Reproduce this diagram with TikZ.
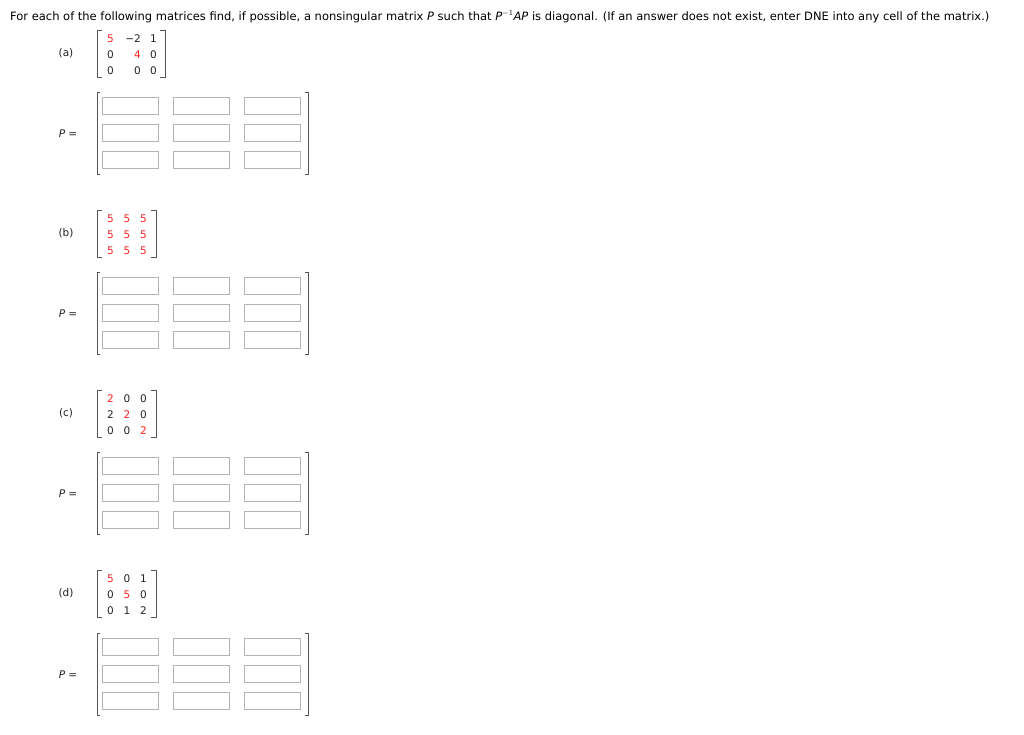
\documentclass[tikz,border=0pt]{standalone}
\usepackage{fontspec}
\setmainfont{DejaVu Sans}
\definecolor{txt}{HTML}{222222}
\definecolor{red}{HTML}{FF2020}
\definecolor{brk}{HTML}{555555}
\definecolor{boxc}{HTML}{B4B4B4}
\tikzset{
 ent/.style={anchor=base east,inner sep=0pt,font=\fontsize{10.5}{12}\selectfont,text=txt},
 rent/.style={ent,text=red},
 lab/.style={anchor=base,inner sep=0pt,font=\fontsize{10.5}{12}\selectfont,text=txt},
 cell/.style={draw=boxc,line width=0.9pt,minimum width=56pt,minimum height=17pt,inner sep=0pt,fill=white},
 brak/.style={draw=brk,line width=1pt}
}
\newcommand{\pmat}[2]{% name, center y
 \node[lab] (#1P) at (68,-#2-4) {\textit{P} =};
 \draw[brak] (100,-#2+41) -- (97,-#2+41) -- (97,-#2-41) -- (100,-#2-41);
 \draw[brak] (305,-#2+41) -- (308,-#2+41) -- (308,-#2-41) -- (305,-#2-41);
 \foreach \r in {1,2,3}{\foreach \c in {1,2,3}{
  \node[cell] (#1c\r\c) at (130+71*\c-71,-#2+54-27*\r) {};}}
}
\newcommand{\amat}[3]{% name, center y, right bracket x
 \draw[brak] (102,-#2+23) -- (97,-#2+23) -- (97,-#2-24) -- (102,-#2-24);
 \draw[brak] (#3-5,-#2+23) -- (#3,-#2+23) -- (#3,-#2-24) -- (#3-5,-#2-24);
}
\begin{document}
\begin{tikzpicture}[x=1pt,y=1pt]
\useasboundingbox (0,0) rectangle (1024,-734);
\node[anchor=base west,inner sep=0pt,font=\fontsize{11.5}{13}\selectfont,text=black] (title) at (10,-20) {For each of the following matrices find, if possible, a nonsingular matrix \textit{P} such that \textit{P}$^{-1}$\textit{AP} is diagonal. (If an answer does not exist, enter DNE into any cell of the matrix.)};
% (a)
\node[lab] (la) at (66,-56) {(a)};
\amat{a}{53}{165}
\node[rent] (a11) at (114,-42) {5}; \node[ent] (a12) at (141,-42) {−2}; \node[ent] (a13) at (157,-42) {1};
\node[ent] (a21) at (114,-58) {0}; \node[rent] (a22) at (141,-58) {4}; \node[ent] (a23) at (157,-58) {0};
\node[ent] (a31) at (114,-74) {0}; \node[ent] (a32) at (141,-74) {0}; \node[ent] (a33) at (157,-74) {0};
\pmat{a}{133}
% (b)
\node[lab] (lb) at (66,-236) {(b)};
\amat{b}{233}{156}
\foreach \r in {1,2,3}{\foreach \c in {1,2,3}{\node[rent] (b\r\c) at (97.5+16.5*\c,-206-16*\r) {5};}}
\pmat{b}{313}
% (c)
\node[lab] (lc) at (66,-416) {(c)};
\amat{c}{413}{156}
\node[rent] (c11) at (114,-402) {2}; \node[ent] (c12) at (130.5,-402) {0}; \node[ent] (c13) at (147,-402) {0};
\node[ent] (c21) at (114,-418) {2}; \node[rent] (c22) at (130.5,-418) {2}; \node[ent] (c23) at (147,-418) {0};
\node[ent] (c31) at (114,-434) {0}; \node[ent] (c32) at (130.5,-434) {0}; \node[rent] (c33) at (147,-434) {2};
\pmat{c}{493}
% (d)
\node[lab] (ld) at (66,-596) {(d)};
\amat{d}{593}{156}
\node[rent] (d11) at (114,-582) {5}; \node[ent] (d12) at (130.5,-582) {0}; \node[ent] (d13) at (147,-582) {1};
\node[ent] (d21) at (114,-598) {0}; \node[rent] (d22) at (130.5,-598) {5}; \node[ent] (d23) at (147,-598) {0};
\node[ent] (d31) at (114,-614) {0}; \node[ent] (d32) at (130.5,-614) {1}; \node[ent] (d33) at (147,-614) {2};
\pmat{d}{674}
\end{tikzpicture}
\end{document}
